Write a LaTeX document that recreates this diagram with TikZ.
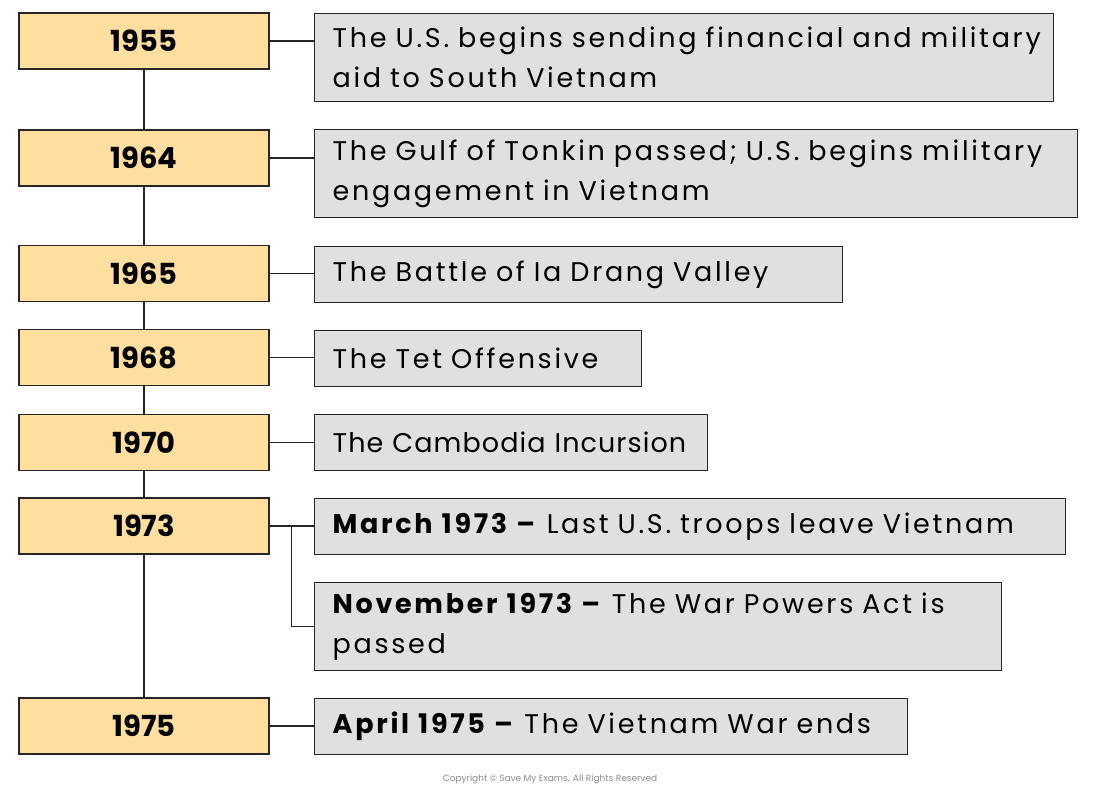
\documentclass[tikz,border=0pt]{standalone}
\usepackage{fontspec}
\setmainfont{Poppins}
\newfontfamily\eventfont{Poppins}[LetterSpace=10,WordSpace=1.5]
\usetikzlibrary{positioning}
\definecolor{yearfill}{HTML}{FFDF9F}
\definecolor{eventfill}{HTML}{E0E0E0}
\tikzset{
  yearbox/.style={draw=black!85, fill=yearfill, line width=1.3pt, minimum width=250pt, minimum height=56pt, inner sep=0pt, font=\fontsize{29}{36}\selectfont\bfseries},
  eventbox/.style={draw=black!85, fill=eventfill, line width=1.3pt, anchor=north west, align=left, inner xsep=18pt, inner ysep=0pt, font=\eventfont\fontsize{27}{40}\selectfont},
  link/.style={draw=black!85, line width=1.3pt}
}
\begin{document}
\begin{tikzpicture}[x=1pt, y=-1pt]
\useasboundingbox (0,0) rectangle (1100,800);
\foreach \yr/\yc in {1955/41,1964/158,1965/273.5,1968/357.5,1970/442.5,1973/526,1975/726}
  \node[yearbox] (y\yr) at (144,\yc) {\yr};
\node[eventbox, text width=703pt, minimum height=88pt] (e1955) at (314,13) {\mbox{The U.S. begins sending financial and military}\\\mbox{aid to South Vietnam}};
\node[eventbox, text width=727pt, minimum height=88pt] (e1964) at (314,129) {\mbox{The Gulf of Tonkin passed; U.S. begins military}\\\mbox{engagement in Vietnam}};
\node[eventbox, text width=492pt, minimum height=56pt] (e1965) at (314,246) {\mbox{The Battle of Ia Drang Valley}};
\node[eventbox, text width=291pt, minimum height=56pt] (e1968) at (314,330) {\mbox{The Tet Offensive}};
\node[eventbox, text width=357pt, minimum height=56pt] (e1970) at (314,414) {\mbox{\addfontfeatures{LetterSpace=4}The Cambodia Incursion}};
\node[eventbox, text width=715pt, minimum height=56pt] (e1973a) at (314,498) {\mbox{\textbf{March 1973 –} Last U.S. troops leave Vietnam}};
\node[eventbox, text width=651pt, minimum height=88pt] (e1973b) at (314,582) {\mbox{\textbf{November 1973 –} The War Powers Act is}\\\mbox{passed}};
\node[eventbox, text width=557pt, minimum height=56pt] (e1975) at (314,698) {\mbox{\textbf{April 1975 –} The Vietnam War ends}};
% timeline spine
\foreach \a/\b in {1955/1964,1964/1965,1965/1968,1968/1970,1970/1973,1973/1975}
  \draw[link] (y\a.south) -- (y\b.north);
% year to event
\foreach \yr in {1955,1964,1965,1968,1970,1975}
  \draw[link] (y\yr.east) -- (y\yr.east -| e\yr.west);
\draw[link] (y1973.east) -- (y1973.east -| e1973a.west);
\coordinate[right=22pt of y1973.east] (fork);
\draw[link] (fork) |- (e1973b.west);
\node[font=\fontsize{9}{10}\selectfont, text=black!45] (copy) at (550,779) {Copyright © Save My Exams. All Rights Reserved};
\end{tikzpicture}
\end{document}
